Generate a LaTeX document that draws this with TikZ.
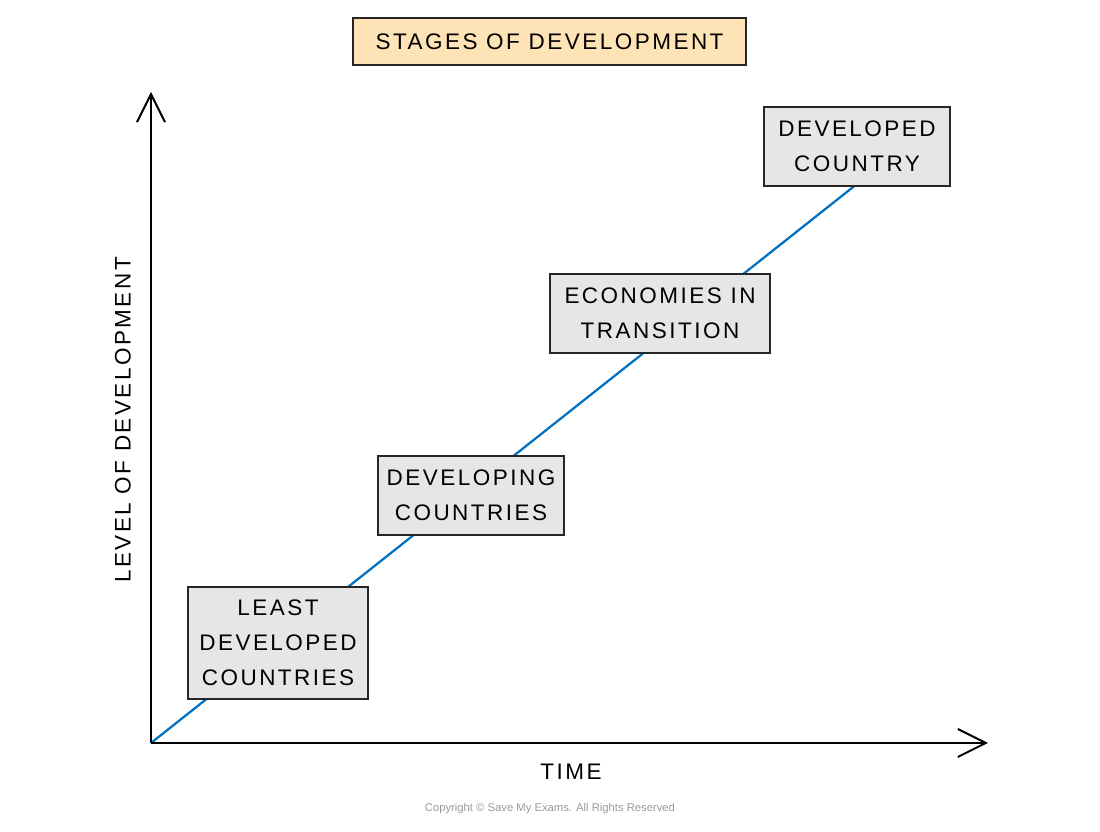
\documentclass[tikz,border=0pt]{standalone}
\usepackage{fontspec}
\setmainfont[LetterSpace=11]{Liberation Sans}
\newfontfamily\plainfont{Liberation Sans}
\usepackage{tikz}
\usetikzlibrary{arrows.meta,positioning}

\definecolor{boxgray}{HTML}{E6E6E6}
\definecolor{titleorange}{HTML}{FDE3B5}
\definecolor{lineblue}{HTML}{0070C0}

\begin{document}
\begin{tikzpicture}[x=0.025cm, y=0.025cm,
  stage/.style={draw=black!85, fill=boxgray, line width=1pt, text centered, align=center,
    font=\fontsize{16}{25}\selectfont},
  axis/.style={line width=1.4pt, -{Straight Barb[length=7mm,width=7mm,line width=1.4pt]}},
  label/.style={font=\fontsize{16}{25}\selectfont}]

\useasboundingbox (0,0) rectangle (1100,832);

%axes
\coordinate (O) at (151,89);
\coordinate (ytop) at (151,740);
\coordinate (xend) at (988,89);
\coordinate (linetop) at (862,652);

\draw [lineblue, line width=1.6pt] (O) -- (linetop);
\draw [axis] (O) -- (ytop);
\draw [axis] (O) -- (xend);

%title
\node [draw=black!85, fill=titleorange, line width=1pt, minimum width=393*0.025cm, minimum height=47*0.025cm,
  font=\fontsize{16}{25}\selectfont] (title) at (549.5,790.5) {STAGES OF DEVELOPMENT};

%stages
\node [stage, minimum width=180*0.025cm, minimum height=112*0.025cm] (least) at (278,189) {LEAST\\DEVELOPED\\COUNTRIES};
\node [stage, minimum width=186*0.025cm, minimum height=79*0.025cm] (developing) at (471,336.5) {DEVELOPING\\COUNTRIES};
\node [stage, minimum width=220*0.025cm, minimum height=79*0.025cm] (transition) at (660,518.5) {ECONOMIES IN\\TRANSITION};
\node [stage, minimum width=186*0.025cm, minimum height=79*0.025cm] (developed) at (857,685.5) {DEVELOPED\\COUNTRY};

%axis labels
\node [label, rotate=90] (ylabel) at (123,412) {LEVEL OF DEVELOPMENT};
\node [label] (xlabel) at (571,60) {TIME};
\node [font=\plainfont\fontsize{8}{9}\selectfont, text=black!40] (copy) at (550,23) {Copyright \textcopyright{} Save My Exams. All Rights Reserved};

\end{tikzpicture}
\end{document}
